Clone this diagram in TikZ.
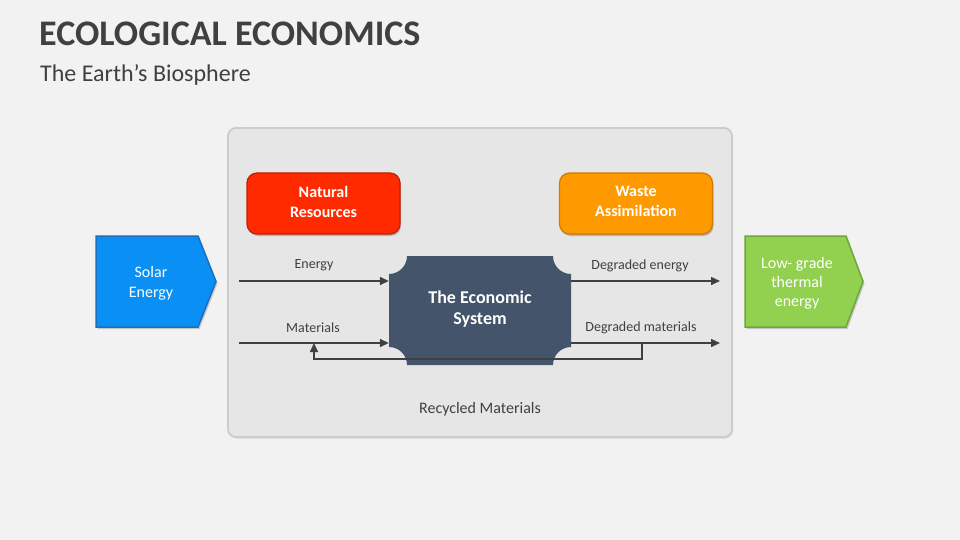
\documentclass[tikz,border=0pt]{standalone}
\usepackage{fontspec}
\setmainfont{Carlito}
\usetikzlibrary{arrows.meta,calc,shadows}
\definecolor{bg}{HTML}{F2F2F2}
\definecolor{ink}{HTML}{404040}
\definecolor{panel}{HTML}{E6E6E6}
\definecolor{panelline}{HTML}{CCCCCC}
\definecolor{redfill}{HTML}{FF2A00}
\definecolor{redline}{HTML}{C41F00}
\definecolor{orfill}{HTML}{FF9900}
\definecolor{orline}{HTML}{D07A00}
\definecolor{bluefill}{HTML}{0A8FF5}
\definecolor{blueline}{HTML}{1B6FBE}
\definecolor{grfill}{HTML}{92D050}
\definecolor{grline}{HTML}{6EA83A}
\definecolor{econfill}{HTML}{44546A}
\tikzset{
  shd/.style={drop shadow={shadow xshift=1pt,shadow yshift=-2pt,opacity=0.22,fill=black}},
  topbox/.style={rounded corners=10pt,line width=1.2pt,minimum width=153pt,minimum height=61pt,
    text=white,font=\fontsize{16}{20}\selectfont\bfseries,align=center,shd},
  arr/.style={draw=ink,line width=1.5pt,-{Triangle[length=9pt,width=8pt]}},
  lbl/.style={text=ink,font=\fontsize{14}{17}\selectfont},
  sidetext/.style={text=white,font=\fontsize{16}{19.5}\selectfont,align=center},
}
\begin{document}
\begin{tikzpicture}[x=1pt,y=-1pt]
\useasboundingbox (0,0) rectangle (960,540);
\fill[bg] (0,0) rectangle (960,540);

% titles
\node[anchor=base west,inner sep=0,text=ink,font=\fontsize{36}{42}\selectfont\bfseries] (title) at (39,46) {ECOLOGICAL ECONOMICS};
\node[anchor=base west,inner sep=0,text=ink,font=\fontsize{24}{28}\selectfont] (sub) at (40,82) {The Earth’s Biosphere};

% panel
\node[draw=panelline,fill=panel,line width=1.8pt,rounded corners=8pt,minimum width=504pt,minimum height=309pt,
  drop shadow={shadow xshift=1pt,shadow yshift=-1.5pt,opacity=0.12,fill=black}] (panel) at (480,282.5) {};

% top boxes
\node[topbox,draw=redline,fill=redfill] (nat) at (323.5,203.5) {};
\node[text=white,font=\fontsize{16}{20}\selectfont\bfseries,align=center] (natt) at (323.5,201.5) {Natural\\Resources};
\node[topbox,draw=orline,fill=orfill] (waste) at (636,203.5) {};
\node[text=white,font=\fontsize{16}{20}\selectfont\bfseries,align=center] (wastet) at (636,201.5) {Waste\\Assimilation};

% side pentagons
\coordinate (sTL) at (96,236);
\fill[black,opacity=0.18] ($(sTL)+(1.5,2)$) -- ++(102,0) -- ++(18,45.5) -- ++(-18,45.5) -- ++(-102,0) -- cycle;
\filldraw[fill=bluefill,draw=blueline,line width=1.5pt] (sTL) -- ++(102,0) -- ++(18,45.5) -- ++(-18,45.5) -- ++(-102,0) -- cycle;
\node[sidetext] (solar) at (151,283.5) {Solar\\Energy};

\coordinate (gTL) at (745,236);
\fill[black,opacity=0.18] ($(gTL)+(1.5,2)$) -- ++(101,0) -- ++(17,45.5) -- ++(-17,45.5) -- ++(-101,0) -- cycle;
\filldraw[fill=grfill,draw=grline,line width=1.5pt] (gTL) -- ++(101,0) -- ++(17,45.5) -- ++(-17,45.5) -- ++(-101,0) -- cycle;
\node[sidetext,font=\fontsize{16}{19}\selectfont] (lowg) at (797,283) {Low- grade\\thermal\\energy};

% economic system
\node[minimum width=182pt,minimum height=109pt,inner sep=0] (econ) at (480,310.5) {};
\fill[econfill] (407,256) -- (553,256) arc[start angle=180,end angle=90,radius=18]
  -- (571,347) arc[start angle=270,end angle=180,radius=18]
  -- (407,365) arc[start angle=0,end angle=-90,radius=18]
  -- (389,274) arc[start angle=90,end angle=0,radius=18] -- cycle;
\node[text=white,font=\fontsize{18}{21}\selectfont\bfseries,align=center] (econtxt) at (480,309.5) {The Economic\\System};

% flows
\coordinate (eIn) at (239,281);
\coordinate (mIn) at (239,343);
\coordinate (eOut) at (720,281);
\coordinate (mOut) at (720,343);
\coordinate (rcR) at (642,343);
\coordinate (rcL) at (314,343);
\draw[arr] (eIn) -- (econ.west |- eIn);
\draw[arr] (mIn) -- (econ.west |- mIn);
\draw[arr] (econ.east |- eOut) -- (eOut);
\draw[arr] (econ.east |- mOut) -- (mOut);
\draw[arr] (rcR) -- ++(0,16) -| (rcL);

\node[lbl] (lE) at (314,265) {Energy};
\node[lbl] (lM) at (313,327.5) {Materials};
\node[lbl] (lDE) at (640,266) {Degraded energy};
\node[lbl] (lDM) at (641,327.5) {Degraded materials};
\node[lbl,font=\fontsize{16}{19}\selectfont] (lR) at (480,409) {Recycled Materials};
\end{tikzpicture}
\end{document}
